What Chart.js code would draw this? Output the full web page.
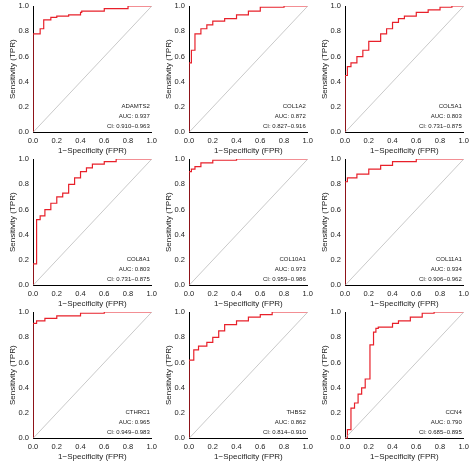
<!DOCTYPE html>
<html><head><meta charset="utf-8">
<script src="https://cdn.jsdelivr.net/npm/chart.js@4/dist/chart.umd.min.js"></script>
<style>
body{margin:0;background:#fff;}
#grid{position:relative;width:474px;height:463px;}
.cell{position:absolute;width:158px;height:156px;}
</style></head><body>
<div id="grid"></div>
<script>
// ROC panels: gene name, AUC, CI, curve points [fpr, tpr]
const genes = ['ADAMTS2','COL1A2','COL5A1','COL8A1','COL10A1','COL11A1','CTHRC1','THBS2','CCN4'];
const aucs = ['0.937','0.872','0.803','0.803','0.973','0.934','0.965','0.862','0.790'];
const cis = ['0.910−0.963','0.827−0.916','0.731−0.875','0.731−0.875','0.959−0.986','0.906−0.962','0.949−0.983','0.814−0.910','0.685−0.895'];
const curves = [
  [[0,0],[0,0.78],[0.06,0.78],[0.06,0.82],[0.09,0.82],[0.09,0.89],[0.15,0.89],[0.2,0.91],[0.3,0.92],[0.4,0.93],[0.41,0.95],[0.6,0.96],[0.8,0.98],[0.9,1],[1,1]],
  [[0,0],[0,0.55],[0.02,0.55],[0.02,0.65],[0.05,0.65],[0.05,0.75],[0.1,0.78],[0.15,0.82],[0.2,0.85],[0.3,0.88],[0.4,0.9],[0.5,0.93],[0.6,0.96],[0.8,0.99],[1,1]],
  [[0,0],[0,0.2],[0.02,0.45],[0.05,0.52],[0.1,0.55],[0.15,0.6],[0.2,0.65],[0.3,0.72],[0.35,0.78],[0.4,0.82],[0.45,0.87],[0.5,0.9],[0.6,0.92],[0.7,0.95],[0.8,0.97],[0.9,0.99],[1,1]],
  [[0,0],[0,0.17],[0.03,0.17],[0.03,0.5],[0.06,0.52],[0.1,0.55],[0.15,0.6],[0.2,0.65],[0.25,0.7],[0.3,0.73],[0.35,0.8],[0.4,0.85],[0.45,0.9],[0.5,0.93],[0.6,0.96],[0.7,0.98],[0.8,1],[1,1]],
  [[0,0],[0,0.8],[0.02,0.9],[0.05,0.92],[0.1,0.94],[0.2,0.97],[0.4,0.99],[0.5,1],[1,1]],
  [[0,0],[0,0.75],[0.02,0.82],[0.1,0.85],[0.2,0.88],[0.3,0.92],[0.4,0.95],[0.6,0.98],[0.7,1],[1,1]],
  [[0,0],[0,0.88],[0.03,0.91],[0.1,0.93],[0.2,0.95],[0.4,0.97],[0.6,0.99],[0.8,1],[1,1]],
  [[0,0],[0,0.6],[0.04,0.62],[0.08,0.7],[0.15,0.73],[0.2,0.76],[0.25,0.8],[0.3,0.85],[0.4,0.9],[0.5,0.93],[0.6,0.96],[0.7,0.98],[0.8,1],[1,1]],
  [[0,0],[0.02,0],[0.02,0.07],[0.05,0.07],[0.05,0.24],[0.08,0.24],[0.08,0.28],[0.11,0.28],[0.11,0.35],[0.14,0.35],[0.14,0.4],[0.17,0.4],[0.17,0.47],[0.21,0.47],[0.21,0.74],[0.24,0.74],[0.24,0.84],[0.26,0.84],[0.28,0.87],[0.4,0.88],[0.45,0.91],[0.55,0.93],[0.65,0.96],[0.75,0.99],[0.78,1],[1,1]]
];
const ticks = [0, 0.2, 0.4, 0.6, 0.8, 1.0];

const FONT = 'Liberation Sans, Arial, sans-serif';
Chart.defaults.font.family = FONT;
Chart.defaults.color = '#222';

// annotation text in the bottom-right corner of each plot
const labelPlugin = {
  id: 'rocLabel',
  afterDraw(chart) {
    const { ctx, chartArea } = chart;
    const i = chart.options.plugins.rocLabel.index;
    ctx.save();
    ctx.font = '6px ' + FONT;
    ctx.fillStyle = '#222';
    ctx.textAlign = 'right';
    const x = chartArea.right - 2, yb = chartArea.bottom - 4;
    ctx.fillText(genes[i], x, yb - 20);
    ctx.fillText('AUC: ' + aucs[i], x, yb - 10);
    ctx.fillText('CI: ' + cis[i], x, yb);
    ctx.restore();
  }
};

const grid = document.getElementById('grid');
genes.forEach((g, i) => {
  const cell = document.createElement('div');
  cell.className = 'cell';
  cell.style.left = (i % 3) * 156 + 'px';
  cell.style.top = Math.floor(i / 3) * 153 + 'px';
  const cv = document.createElement('canvas');
  cell.appendChild(cv);
  grid.appendChild(cell);

  const axis = (title) => ({
    type: 'linear', min: 0, max: 1,
    afterBuildTicks: (s) => { s.ticks = ticks.map(v => ({ value: v })); },
    ticks: { font: { size: 7.5 }, padding: 1, callback: v => v.toFixed(1) },
    grid: { display: false, drawTicks: true, tickLength: 3, tickColor: '#000' },
    border: { color: '#000', width: 1 },
    title: { display: true, text: title, font: { size: 8 }, padding: 0 }
  });

  new Chart(cv, {
    type: 'line',
    data: {
      datasets: [
        { data: [{ x: 0, y: 0 }, { x: 1, y: 1 }], borderColor: '#bbb', borderWidth: 0.8, pointRadius: 0 },
        { data: curves[i].map(p => ({ x: p[0], y: p[1] })), borderColor: '#e8202a', borderWidth: 1.2, pointRadius: 0, stepped: 'after' }
      ]
    },
    options: {
      responsive: true, maintainAspectRatio: false, animation: false,
      layout: { padding: { top: 6, right: 1, left: 8, bottom: 0 } },
      plugins: { legend: { display: false }, tooltip: { enabled: false }, rocLabel: { index: i } },
      scales: { x: axis('1−Specificity (FPR)'), y: axis('Sensitivity (TPR)') }
    },
    plugins: [labelPlugin]
  });
});
</script>
</body></html>
